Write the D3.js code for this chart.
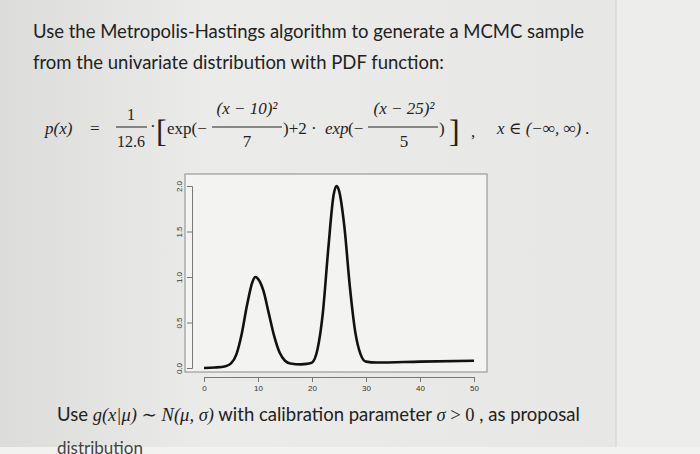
<!DOCTYPE html>
<html><head><meta charset="utf-8">
<script src="https://cdn.jsdelivr.net/npm/d3@7"></script>
<style>body{margin:0;background:#e4e4e2}svg{display:block}</style>
</head><body><svg id="c" width="700" height="454"></svg>
<script>
const xs = [0,2,4,5,6,7,8,9,9.5,10,11,12,13,14,15,16,18,19,20,21,22,23,24,24.5,25,26,27,28,29,30,32,40,50];
const ys = [0,0.005,0.02,0.05,0.15,0.38,0.7,0.95,1.0,0.98,0.85,0.6,0.35,0.17,0.08,0.05,0.04,0.045,0.06,0.2,0.6,1.3,1.9,2.0,1.95,1.55,0.9,0.4,0.15,0.07,0.06,0.07,0.08];
const xTicks = [0,10,20,30,40,50];
const yTicks = [0,0.5,1,1.5,2];

const svg = d3.select("#c");
const defs = svg.append("defs");
const g = defs.append("linearGradient").attr("id","bg").attr("x1",0).attr("x2",1);
g.append("stop").attr("offset",0).attr("stop-color","#dcdcda");
g.append("stop").attr("offset",0.3).attr("stop-color","#ebebe9");
g.append("stop").attr("offset",1).attr("stop-color","#e6e6e4");
svg.append("rect").attr("width",700).attr("height",454).attr("fill","url(#bg)");
svg.append("rect").attr("x",616).attr("width",84).attr("height",454).attr("fill","#ededeb");
svg.append("line").attr("x1",616).attr("x2",616).attr("y1",0).attr("y2",454).attr("stroke","#cfcfcd");
svg.append("rect").attr("y",447).attr("width",700).attr("height",7).attr("fill","#f2f2f0");

const sans = "Lato, 'Open Sans', sans-serif", serif = "'Liberation Serif', 'DejaVu Serif', serif";
const T = (x,y,s,size,opt={}) => svg.append("text").attr("x",x).attr("y",y).text(s)
  .attr("font-family",opt.ff||sans).attr("font-size",size).attr("fill","#222")
  .attr("font-style",opt.it?"italic":null).attr("text-anchor",opt.a||"start");
T(33,38,"Use the Metropolis-Hastings algorithm to generate a MCMC sample",18.5);
T(33,69,"from the univariate distribution with PDF function:",18.5);

// formula
const fs = 17;
T(45,134,"p(x)",fs,{ff:serif,it:true});
T(90,134,"=",fs,{ff:serif});
T(131,120,"1",fs-1,{ff:serif,a:"middle"});
T(131,147,"12.6",fs-1,{ff:serif,a:"middle"});
svg.append("line").attr("x1",116).attr("x2",147).attr("y1",127).attr("y2",127).attr("stroke","#222");
T(150,132,"·",fs,{ff:serif});
T(156,142,"[",32,{ff:serif});
T(167,134,"exp(−",fs,{ff:serif});
T(247,114,"(x − 10)²",fs,{ff:serif,a:"middle",it:true});
T(247,147,"7",fs,{ff:serif,a:"middle"});
svg.append("line").attr("x1",212).attr("x2",282).attr("y1",127).attr("y2",127).attr("stroke","#222");
T(283,134,")+2 · ",fs,{ff:serif});
T(325,134,"exp",fs,{ff:serif,it:true});
T(348,134,"(−",fs,{ff:serif});
T(404,114,"(x − 25)²",fs,{ff:serif,a:"middle",it:true});
T(404,147,"5",fs,{ff:serif,a:"middle"});
svg.append("line").attr("x1",368).attr("x2",438).attr("y1",127).attr("y2",127).attr("stroke","#222");
T(439,134,")",fs,{ff:serif});
T(449,142,"]",32,{ff:serif});
T(471,137,",",fs,{ff:serif});
T(497,134,"x ∈ (−∞, ∞) .",fs,{ff:serif,it:true});

// plot
svg.append("rect").attr("x",185).attr("y",174).attr("width",302).attr("height",198).attr("fill","#f3f3f1").attr("stroke","#8a8a8a");
const x = d3.scaleLinear().domain([0,50]).range([204,474]);
const y = d3.scaleLinear().domain([0,2]).range([368,186]);
const ax = svg.append("g").attr("transform","translate(0,377)").call(d3.axisBottom(x).tickValues(xTicks).tickSize(5).tickFormat(d3.format("d")));
const ay = svg.append("g").attr("transform","translate(192,0)").call(d3.axisLeft(y).tickValues(yTicks).tickSize(5).tickFormat(d3.format(".1f")));
[ax,ay].forEach(a=>{a.selectAll("path,line").attr("stroke","#777");a.selectAll("text").attr("font-size",8).attr("fill","#333").attr("font-family","Arial, sans-serif");});
ay.selectAll(".tick text").attr("x",null).attr("dy",null).attr("text-anchor","middle")
  .attr("transform","translate(-13,0) rotate(-90)").attr("y",3);
svg.append("path").datum(xs.map((v,i)=>[v,ys[i]])).attr("fill","none").attr("stroke","#111").attr("stroke-width",2.6)
  .attr("d",d3.line().x(d=>x(d[0])).y(d=>y(d[1])).curve(d3.curveMonotoneX));

// bottom text
const b = svg.append("text").attr("x",57).attr("y",421).attr("font-size",18.5).attr("fill","#222").attr("font-family",sans);
b.append("tspan").text("Use ");
b.append("tspan").attr("font-family",serif).attr("font-style","italic").text("g(x|μ) ∼ N(μ, σ)");
b.append("tspan").text(" with calibration parameter ");
b.append("tspan").attr("font-family",serif).attr("font-style","italic").text("σ");
b.append("tspan").attr("font-family",serif).text(" > 0");
b.append("tspan").text(" , as proposal");
T(57,454,"distribution",17).attr("fill","#444");
</script></body></html>
